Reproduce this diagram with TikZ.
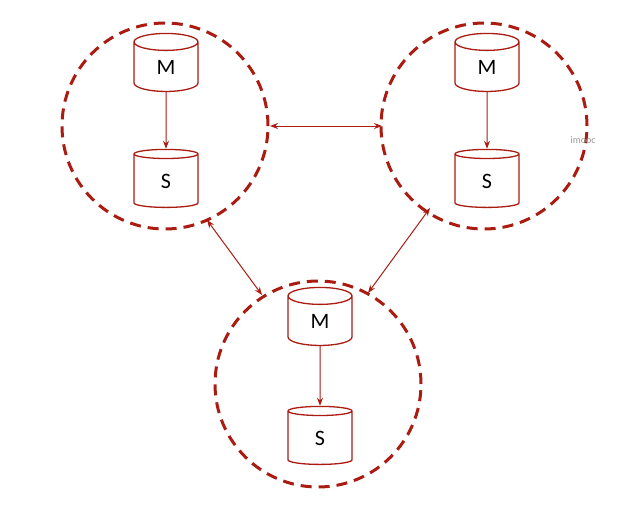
\documentclass[tikz,border=0pt]{standalone}
\usepackage{fontspec}
\setmainfont{Carlito}
\usetikzlibrary{shapes.geometric,arrows.meta}
\definecolor{dred}{RGB}{170,28,18}
\begin{document}
\begin{tikzpicture}[x=1pt,y=-1pt,
  db/.style={cylinder,shape border rotate=90,draw=dred,line width=1.3pt,fill=white,minimum width=64pt,minimum height=58pt,aspect=0.9,font=\fontsize{22}{22}\selectfont,inner sep=0pt},
  grp/.style={circle,draw=dred,line width=3pt,dash pattern=on 11pt off 7pt,minimum size=206pt,inner sep=0pt},
  lnk/.style={draw=dred,line width=1pt,-{Stealth[length=8pt,width=6pt]}},
  blnk/.style={draw=dred,line width=1pt,{Stealth[length=8pt,width=6pt]}-{Stealth[length=8pt,width=6pt]}}]
\useasboundingbox (0,0) rectangle (632,512);
\node[grp] (c1) at (165,126) {};
\node[grp] (c2) at (484,126) {};
\node[grp] (c3) at (318,384) {};
\node[db] (m1) at (166,67) {M};
\node[db] (s1) at (166,181) {S};
\node[db] (m2) at (487,67) {M};
\node[db] (s2) at (487,181) {S};
\node[db] (m3) at (320,321) {M};
\node[db] (s3) at (320,438) {S};
\draw[lnk] (m1) -- (s1);
\draw[lnk] (m2) -- (s2);
\draw[lnk] (m3) -- (s3);
\coordinate (a1) at (270,126); \coordinate (a2) at (382,126);
\coordinate (b1) at (207,220); \coordinate (b2) at (262,295);
\coordinate (d1) at (430,208); \coordinate (d2) at (368,293);
\draw[blnk] (a1) -- (a2);
\draw[blnk] (b1) -- (b2);
\draw[blnk] (d1) -- (d2);
\node[text=gray!80,font=\fontsize{10}{10}\selectfont] (im) at (583,140) {imooc};
\end{tikzpicture}
\end{document}
